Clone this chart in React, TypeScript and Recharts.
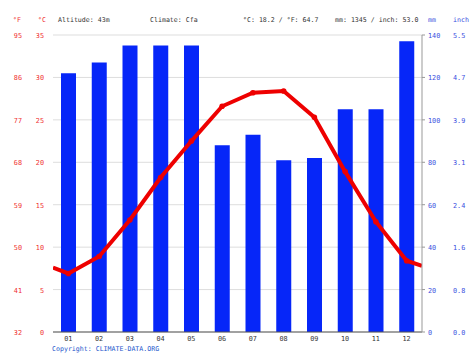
import { ComposedChart, Bar, Line, XAxis, YAxis, CartesianGrid } from 'recharts'

const months = ['01', '02', '03', '04', '05', '06', '07', '08', '09', '10', '11', '12']
const precipitationMm = [122, 127, 135, 135, 135, 88, 93, 81, 82, 105, 105, 137]
const temperatureC = [6.9, 8.9, 13.2, 18.2, 22.5, 26.6, 28.2, 28.4, 25.3, 18.9, 13.0, 8.4]
// where the temperature line meets the left and right edges of the plot
const edgeStartC = 7.6
const edgeEndC = 7.8

const celsiusTicks = [0, 5, 10, 15, 20, 25, 30, 35]
const fahrenheitLabels = ['32', '41', '50', '59', '68', '77', '86', '95']
const mmTicks = [0, 20, 40, 60, 80, 100, 120, 140]
const inchLabels = ['0.0', '0.8', '1.6', '2.4', '3.1', '3.9', '4.7', '5.5']

const barData = months.map((month, i) => ({ month, mm: precipitationMm[i] }))
const lineData = [
  { m: 0.5, t: edgeStartC, edge: true },
  ...temperatureC.map((t, i) => ({ m: i + 1, t, edge: false })),
  { m: 12.5, t: edgeEndC, edge: true },
]

const FONT = '"DejaVu Sans Mono", monospace'
const FS = 6.8
const RED = '#f03030'
const BLUE = '#3a4fe0'

const TempDot = (props: any) => {
  const { cx, cy, payload, index } = props
  if (payload.edge) return <g key={index} />
  return <circle key={index} cx={cx} cy={cy} r={2.8} fill="#ee0000" />
}

// °C and °F labels side by side on the left
const LeftTick = (props: any) => {
  const { x, y, payload, index } = props
  return (
    <g>
      <text x={x} y={y} dy={3} textAnchor="end" fill={RED} fontSize={FS} fontFamily={FONT}>
        {payload.value}
      </text>
      <text x={x - 22} y={y} dy={3} textAnchor="end" fill={RED} fontSize={FS} fontFamily={FONT}>
        {fahrenheitLabels[index]}
      </text>
    </g>
  )
}

// mm and inch labels side by side on the right
const RightTick = (props: any) => {
  const { x, y, payload, index } = props
  return (
    <g>
      <text x={x} y={y} dy={3} textAnchor="start" fill={BLUE} fontSize={FS} fontFamily={FONT}>
        {payload.value}
      </text>
      <text x={x + 25} y={y} dy={3} textAnchor="start" fill={BLUE} fontSize={FS} fontFamily={FONT}>
        {inchLabels[index]}
      </text>
    </g>
  )
}

export default function App() {
  return (
    <div style={{ position: 'absolute', left: 0, top: 0, width: 474, height: 355, background: '#fff' }}>
      <ComposedChart
        width={474}
        height={355}
        data={barData}
        margin={{ top: 35, right: 0, bottom: 0, left: 0 }}
      >
        <CartesianGrid vertical={false} stroke="#dddddd" xAxisId="cat" yAxisId="c" />
        <XAxis
          xAxisId="cat"
          dataKey="month"
          height={23}
          tickLine={false}
          tickSize={0}
          tickMargin={4}
          stroke="#555"
          tick={{ fill: '#333', fontSize: FS, fontFamily: FONT }}
        />
        <XAxis xAxisId="num" dataKey="m" type="number" domain={[0.5, 12.5]} allowDataOverflow hide />
        <YAxis
          yAxisId="c"
          orientation="left"
          width={53}
          domain={[0, 35]}
          ticks={celsiusTicks}
          axisLine={false}
          tickLine={false}
          tickSize={0}
          tickMargin={9}
          tick={<LeftTick />}
        />
        <YAxis
          yAxisId="mm"
          orientation="right"
          width={52}
          domain={[0, 140]}
          ticks={mmTicks}
          stroke="#999"
          tickSize={3}
          tickMargin={3}
          tick={<RightTick />}
        />
        <Bar xAxisId="cat" yAxisId="mm" dataKey="mm" fill="#0626f8" barSize={15} isAnimationActive={false} />
        <Line
          xAxisId="num"
          yAxisId="c"
          data={lineData}
          dataKey="t"
          type="linear"
          stroke="#ee0000"
          strokeWidth={4}
          dot={TempDot}
          activeDot={false}
          isAnimationActive={false}
        />
      </ComposedChart>
      <svg
        width={474}
        height={355}
        style={{ position: 'absolute', left: 0, top: 0, pointerEvents: 'none' }}
        fontFamily={FONT}
        fontSize={6.6}
      >
        <text x={13} y={22} fill={RED}>°F</text>
        <text x={38} y={22} fill={RED}>°C</text>
        <text x={58} y={22} fill="#333">Altitude: 43m</text>
        <text x={150} y={22} fill="#333">Climate: Cfa</text>
        <text x={243} y={22} fill="#333">°C: 18.2 / °F: 64.7</text>
        <text x={335} y={22} fill="#333">mm: 1345 / inch: 53.0</text>
        <text x={428} y={22} fill={BLUE}>mm</text>
        <text x={453} y={22} fill={BLUE}>inch</text>
        <text x={52} y={351} fill="#2255cc">Copyright: CLIMATE-DATA.ORG</text>
      </svg>
    </div>
  )
}
